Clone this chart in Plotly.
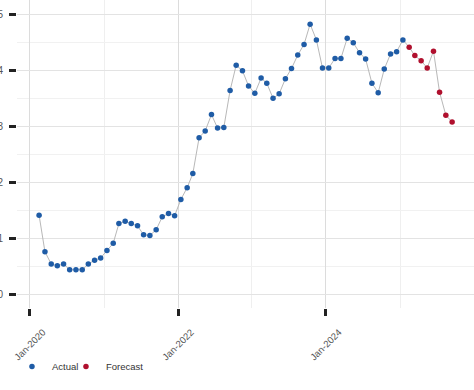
import plotly.graph_objects as go
import pandas as pd

actual_start = "2020-02-15"
actual_values = [1.42, 0.77, 0.55, 0.52, 0.55, 0.45, 0.45, 0.45, 0.55, 0.62, 0.66, 0.79,
                 0.92, 1.27, 1.31, 1.27, 1.23, 1.07, 1.06, 1.16, 1.39, 1.45, 1.41, 1.70,
                 1.91, 2.16, 2.80, 2.92, 3.21, 2.97, 2.98, 3.64, 4.09, 3.99, 3.72, 3.59,
                 3.86, 3.77, 3.50, 3.58, 3.85, 4.03, 4.27, 4.46, 4.82, 4.54, 4.04, 4.04,
                 4.21, 4.21, 4.57, 4.49, 4.31, 4.20, 3.77, 3.60, 4.02, 4.29, 4.33, 4.54]
forecast_start = "2025-02-15"
forecast_values = [4.41, 4.26, 4.17, 4.04, 4.34, 3.61, 3.20, 3.08]

x_ticks = ["2020-01-01", "2022-01-01", "2024-01-01"]
x_ticktext = ["Jan-2020", "Jan-2022", "Jan-2024"]
x_minor = ["2021-01-01", "2023-01-01", "2025-01-01"]

def months(start, n):
    s = pd.Timestamp(start)
    return [(s + pd.DateOffset(months=i)).strftime("%Y-%m-%d") for i in range(n)]

actual_dates = months(actual_start, len(actual_values))
forecast_dates = months(forecast_start, len(forecast_values))

fig = go.Figure()
fig.add_trace(go.Scatter(x=actual_dates + forecast_dates, y=actual_values + forecast_values,
                         mode="lines", line=dict(color="#b8b8b8", width=1),
                         showlegend=False, hoverinfo="skip"))
fig.add_trace(go.Scatter(x=actual_dates, y=actual_values, mode="markers", name="Actual",
                         marker=dict(color="#1f5ca6", size=5.5), legend="legend"))
fig.add_trace(go.Scatter(x=forecast_dates, y=forecast_values, mode="markers", name="Forecast",
                         marker=dict(color="#b0102e", size=5.5), legend="legend2"))

leg_common = dict(orientation="h", y=-0.143, xanchor="left", yanchor="top",
                  font=dict(size=9.5, color="#333"), itemwidth=30,
                  bgcolor="rgba(255,255,255,0)")

fig.update_layout(
    width=474, height=390,
    margin=dict(l=17, r=0, t=0, b=82, autoexpand=False),
    plot_bgcolor="white", paper_bgcolor="white",
    font=dict(family="Liberation Sans, Arial, sans-serif", size=10, color="#555"),
    showlegend=True,
    legend=dict(x=-0.011, **leg_common),
    legend2=dict(x=-0.011 + 54 / 457, **leg_common),
    xaxis=dict(type="date", range=["2019-10-29", "2026-01-01"],
               tickmode="array", tickvals=x_ticks, ticktext=x_ticktext,
               tickangle=-45, ticks="outside", ticklen=7, tickwidth=3, tickcolor="#222",
               ticklabelshift=13, ticklabelstandoff=7, ticklabeloverflow="allow",
               showgrid=True, gridcolor="#dcdcdc", gridwidth=1,
               minor=dict(tickmode="array", tickvals=x_minor, showgrid=True,
                          gridcolor="#efefef", ticks=""),
               zeroline=False, showline=False, automargin=False,
               tickfont=dict(size=9.5, color="#555")),
    yaxis=dict(range=[-0.232, 5.25], tickmode="linear", tick0=0, dtick=1,
               ticks="outside", ticklen=7, tickwidth=3, tickcolor="#222",
               ticklabeloverflow="allow", ticklabelstandoff=4,
               showgrid=True, gridcolor="#e3e3e3", gridwidth=1,
               minor=dict(dtick=0.5, showgrid=True, gridcolor="#f1f1f1", ticks=""),
               zeroline=False, showline=False, automargin=False,
               tickfont=dict(size=10, color="#555")),
)

fig.write_html("out.html", config={"displayModeBar": False},
               post_script="document.body.style.margin='0';")
